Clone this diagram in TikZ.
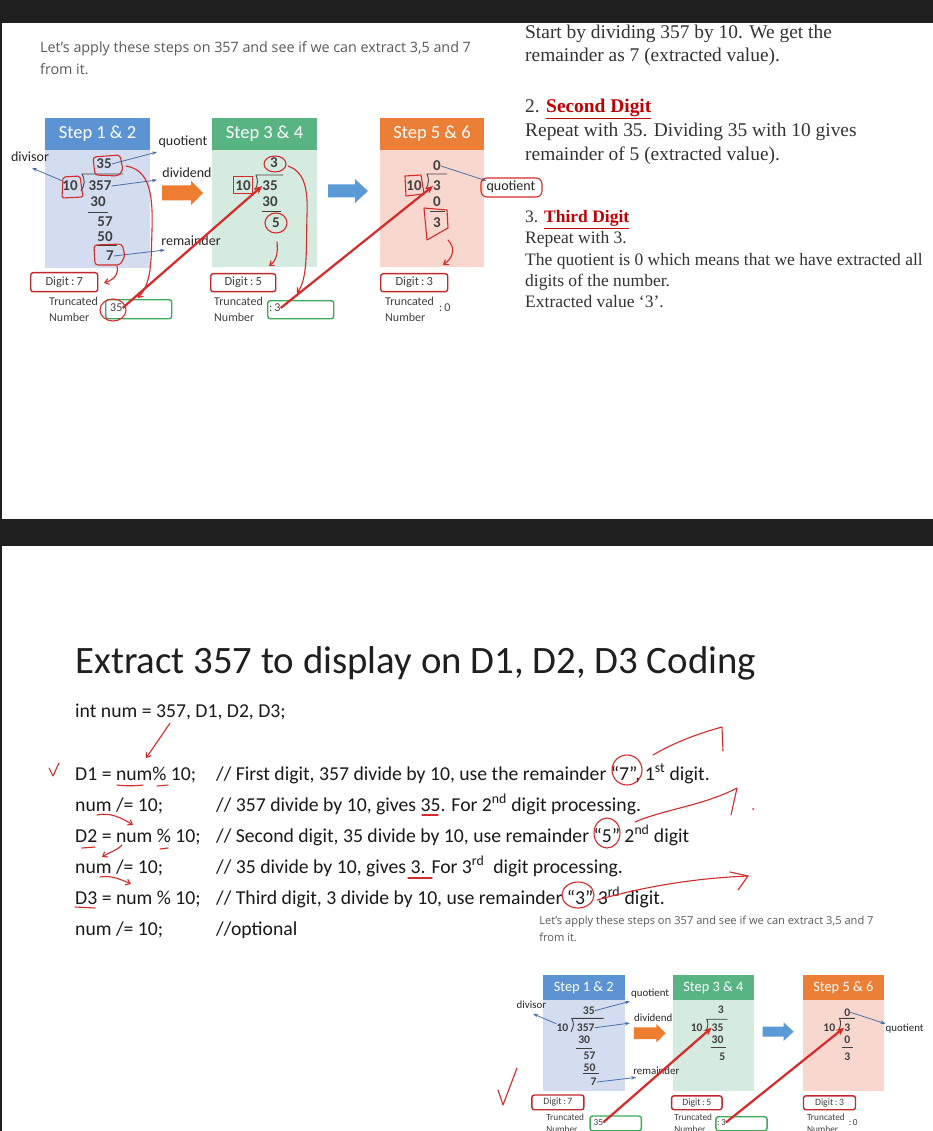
\documentclass[tikz,border=0pt]{standalone}
\usepackage{fontspec}
\setmainfont{Liberation Serif}
\newfontfamily\carl{Carlito}
\newfontfamily\opsans{Open Sans}
\usetikzlibrary{arrows.meta}
\definecolor{hdrblue}{HTML}{5B93D3}
\definecolor{hdrgreen}{HTML}{58B583}
\definecolor{hdrorange}{HTML}{EC7F37}
\definecolor{bodyblue}{HTML}{D4DCF0}
\definecolor{bodygreen}{HTML}{D6EBDF}
\definecolor{bodypink}{HTML}{F8D7CF}
\definecolor{fatorange}{HTML}{EE7D31}
\definecolor{fatblue}{HTML}{5B9BD5}
\definecolor{arrowblue}{HTML}{4A6FA8}
\definecolor{numgray}{HTML}{404040}
\definecolor{boxred}{HTML}{C0282D}
\definecolor{boxgreen}{HTML}{3DAA5A}
\definecolor{handred}{HTML}{D42A2A}
\definecolor{headred}{HTML}{C00000}
\definecolor{textgray}{HTML}{333333}
\definecolor{opengray}{HTML}{595959}
\definecolor{darkband}{HTML}{1F1F1F}
\tikzset{
 hdr/.style={text=white, inner sep=0pt, font=\carl\fontsize{18.5}{20}\selectfont},
 num/.style={text=numgray, inner sep=0pt, font=\carl\bfseries\fontsize{15}{16}\selectfont},
 lbl/.style={text=black!85, inner sep=0pt, font=\carl\fontsize{14}{15}\selectfont},
 small/.style={text=numgray, inner sep=0pt, font=\carl\fontsize{12}{13}\selectfont},
 barrow/.style={draw=arrowblue, line width=0.8pt, -{Stealth[length=5pt,width=3.5pt]}},
 rulestroke/.style={draw=numgray, line width=0.7pt},
 digitbox/.style={draw=boxred, line width=1.4pt, rounded corners=2.5pt, inner sep=0pt, text=numgray, font=\carl\fontsize{12.5}{13}\selectfont},
 truncbox/.style={draw=boxgreen, line width=1.4pt, rounded corners=2.5pt, inner sep=0pt},
 hand/.style={draw=handred, line width=1.1pt, line cap=round, line join=round},
 handarrow/.style={hand, -{Straight Barb[length=4pt,width=6pt]}},
 bigred/.style={draw=handred, line width=2.2pt, -{Stealth[length=8pt,width=7pt]}},
 serif/.style={anchor=base west, inner sep=0pt, text=textgray, font=\fontsize{17.5}{20}\selectfont},
 serifbig/.style={anchor=base west, inner sep=0pt, text=textgray, font=\fontsize{19.4}{22}\selectfont},
 codetext/.style={anchor=base west, inner sep=0pt, text=black!90, font=\carl\fontsize{19.7}{22}\selectfont},
 opentext/.style={anchor=base west, inner sep=0pt, text=opengray, font=\opsans\fontsize{14.3}{16}\selectfont},
}
\newcommand{\stepdiagram}[1]{%
 \node[opentext] (#1t1) at (40,53) {Let’s apply these steps on 357 and see if we can extract 3,5 and 7};
 \node[opentext] (#1t2) at (40,75) {from it.};
 % step boxes
 \fill[hdrblue] (45,118) rectangle (150,150);
 \fill[bodyblue] (45,150) rectangle (150,268);
 \node[hdr] (#1h1) at (97.5,134) {Step 1 \& 2};
 \fill[hdrgreen] (212,118) rectangle (317,150);
 \fill[bodygreen] (212,150) rectangle (317,267);
 \node[hdr] (#1h2) at (264.5,134) {Step 3 \& 4};
 \fill[hdrorange] (380,118) rectangle (484,150);
 \fill[bodypink] (380,150) rectangle (484,267);
 \node[hdr] (#1h3) at (432,134) {Step 5 \& 6};
 % step 1 & 2
 \node[num] (#1q1) at (104,164) {35};
 \node[num] (#1dv1) at (70,186) {10};
 \node[num] (#1dd1) at (100,186) {357};
 \node[num] (#1s1) at (98,202) {30};
 \draw[rulestroke] (88,212) -- (108,212);
 \node[num] (#1m1) at (105,222) {57};
 \node[num] (#1n1) at (105,237) {50};
 \draw[rulestroke] (96,245) -- (117,245);
 \node[num] (#1r1) at (110,256) {7};
 \draw[rulestroke, line width=0.9pt] (81,191) .. controls (85,185) and (85,179) .. (82,174) -- (123,174);
 % labels
 \node[lbl] (#1lq) at (183,142) {quotient};
 \node[lbl] (#1ldv) at (30,157) {divisor};
 \node[lbl] (#1ldd) at (187,173) {dividend};
 \node[lbl] (#1lr) at (191,241) {remainder};
 \draw[barrow] (#1q1.east) -- (157,152);
 \draw[barrow] (#1dv1.north west) -- (32,168);
 \draw[barrow] (#1dd1.east) -- (157,180);
 \draw[barrow] (#1r1.east) -- (165,250);
 % fat arrows
 \fill[fatorange] (162,185.5) -- (191,185.5) -- (191,181) -- (203,193) -- (191,205) -- (191,200.5) -- (162,200.5) -- cycle;
 \fill[fatblue] (328,184.5) -- (355,184.5) -- (355,179) -- (368,191) -- (355,203) -- (355,197.5) -- (328,197.5) -- cycle;
 % step 3 & 4
 \node[num] (#1q2) at (274,163) {3};
 \node[num] (#1dv2) at (243,186) {10};
 \node[num] (#1dd2) at (270,186) {35};
 \node[num] (#1s2) at (270,202) {30};
 \draw[rulestroke] (262,211) -- (281,211);
 \node[num] (#1r2) at (276,223) {5};
 \draw[rulestroke, line width=0.9pt] (255,190) .. controls (258,185) and (258,179) .. (256,175) -- (283,175);
 % step 5 & 6
 \node[num] (#1q3) at (437,166) {0};
 \node[num] (#1dv3) at (414,186) {10};
 \node[num] (#1dd3) at (437,186) {3};
 \node[num] (#1s3) at (437,202) {0};
 \draw[rulestroke] (430,211) -- (445,211);
 \node[num] (#1r3) at (437,223) {3};
 \draw[rulestroke, line width=0.9pt] (426,189) .. controls (429,184) and (429,178) .. (427,174) -- (447,174);
 \node[lbl] (#1lq3) at (511,187) {quotient};
 \draw[barrow] (#1q3.east) -- (#1lq3.north west);
 % digit boxes
 \node[digitbox, minimum width=67pt, minimum height=19pt, anchor=north west] (#1dg1) at (30,272) {Digit\,:\,7};
 \node[digitbox, minimum width=65pt, minimum height=18pt, anchor=north west] (#1dg2) at (210,273) {Digit\,:\,5};
 \node[digitbox, minimum width=67pt, minimum height=18pt, anchor=north west] (#1dg3) at (380,273) {Digit\,:\,3};
 % truncated
 \node[small, anchor=west] (#1tr1) at (49,301) {Truncated};
 \node[small, anchor=west] (#1nb1) at (49,317) {Number};
 \node[truncbox, minimum width=66pt, minimum height=19pt, anchor=north west] (#1tb1) at (105,299) {};
 \node[small, anchor=west] (#1tv1) at (110,308) {35};
 \node[small, anchor=west] (#1tr2) at (214,301) {Truncated};
 \node[small, anchor=west] (#1nb2) at (214,317) {Number};
 \node[truncbox, minimum width=66pt, minimum height=18pt, anchor=north west] (#1tb2) at (267,300) {};
 \node[small, anchor=west] (#1tv2) at (269,308) {:\,3};
 \node[small, anchor=west] (#1tr3) at (385,301) {Truncated};
 \node[small, anchor=west] (#1nb3) at (385,317) {Number};
 \node[small, anchor=west] (#1tv3) at (439,308) {:\,0};
 % big red lines
 \draw[bigred] (#1tv1.east) -- (#1dd2.west);
 \draw[bigred] (#1tv2.east) -- (#1dd3.west);
}
\begin{document}
\begin{tikzpicture}[x=1pt,y=-1pt]
\useasboundingbox (0,0) rectangle (933,1131);
\clip (0,0) rectangle (933,1131);
\fill[white] (0,0) rectangle (933,1131);
\fill[darkband] (0,0) rectangle (933,23);
\fill[darkband] (0,519) rectangle (933,546);
\fill[darkband] (0,23) rectangle (2,519);
\fill[darkband] (0,546) rectangle (2,1131);

% ---------- top diagram ----------
\stepdiagram{a}
% red annotations (top)
\draw[hand, rounded corners=3pt] (93,157) -- (120,155) -- (123,170) -- (118,176) -- (95,175) -- cycle;
\draw[hand, rounded corners=2pt] (63,177) -- (80,176) -- (83,197) -- (62,198) -- cycle;
\draw[hand, rounded corners=3pt] (94,245) -- (122,244) -- (125,256) -- (120,265) -- (95,265) -- cycle;
\draw[handarrow] (126,166) .. controls (150,170) and (153,195) .. (152,230) .. controls (151,262) and (152,282) .. (138,298);
\draw[handarrow] (117,266) .. controls (119,272) and (116,279) .. (104,283);
\draw[hand] (113,310) ellipse [x radius=13pt, y radius=11pt];
\draw[hand, line width=1pt] (233,177) rectangle (252,194);
\draw[hand] (275,164) ellipse [x radius=11pt, y radius=8pt];
\draw[hand] (276,223) ellipse [x radius=11pt, y radius=10pt];
\draw[handarrow] (288,166) .. controls (305,172) and (308,190) .. (307,215) .. controls (306,250) and (308,278) .. (297,293);
\draw[handarrow] (277,242) .. controls (278,252) and (277,260) .. (269,266);
\draw[hand] (405,176) -- (421,175) -- (424,194) -- (406,196) -- cycle;
\draw[hand] (424,208) -- (447,210) -- (448,228) -- (427,240) -- cycle;
\draw[handarrow] (448,240) .. controls (456,248) and (453,258) .. (443,265);
\draw[hand, rounded corners=6pt] (481,178) rectangle (542,197);

% ---------- right text ----------
\node[serifbig] (p1) at (525,39) {Start by dividing 357 by 10. We get the};
\node[serifbig] (p2) at (525,62) {remainder as 7 (extracted value).};
\node[serifbig] (p3) at (525,113) {2. \textcolor{headred}{\textbf{\underline{Second Digit}}}};
\node[serifbig] (p4) at (525,137) {Repeat with 35. Dividing 35 with 10 gives};
\node[serifbig] (p5) at (525,161) {remainder of 5 (extracted value).};
\node[serif] (p6) at (525,223) {3. \textcolor{headred}{\textbf{\underline{Third Digit}}}};
\node[serif] (p7) at (525,244) {Repeat with 3.};
\node[serif] (p8) at (525,266) {The quotient is 0 which means that we have extracted all};
\node[serif] (p9) at (525,287) {digits of the number.};
\node[serif] (p10) at (525,308) {Extracted value ‘3’.};

% ---------- code section ----------
\node[anchor=base west, inner sep=0pt, text=black!88, font=\carl\fontsize{38.8}{40}\selectfont] (title) at (75,673) {Extract 357 to display on D1, D2, D3 Coding};
\node[codetext] (c0) at (75,717) {int num = 357, D1, D2, D3;};
\node[codetext] (c1) at (75,780) {D1 = num\% 10;};
\node[codetext] (c2) at (75,811) {num /= 10;};
\node[codetext] (c3) at (75,842) {D2 = num \% 10;};
\node[codetext] (c4) at (75,873) {num /= 10;};
\node[codetext] (c5) at (75,904) {D3 = num \% 10;};
\node[codetext] (c6) at (75,935) {num /= 10;};
\node[codetext] (k1) at (216,780) {// First digit, 357 divide by 10, use the remainder “7”, 1\textsuperscript{st} digit.};
\node[codetext] (k2) at (216,811) {// 357 divide by 10, gives 35. For 2\textsuperscript{nd} digit processing.};
\node[codetext] (k3) at (216,842) {// Second digit, 35 divide by 10, use remainder “5” 2\textsuperscript{nd} digit};
\node[codetext] (k4) at (216,873) {// 35 divide by 10, gives 3. For 3\textsuperscript{rd}\ \ digit processing.};
\node[codetext] (k5) at (216,904) {// Third digit, 3 divide by 10, use remainder “3” 3\textsuperscript{rd} digit.};
\node[codetext] (k6) at (216,935) {//optional};

% red code annotations
\draw[hand] (49,768) -- (53,776) -- (59,763);
\draw[handarrow] (170,723) .. controls (162,735) and (153,748) .. (146,758);
\draw[hand] (117,785) .. controls (125,786) and (135,786) .. (143,785);
\draw[hand] (157,786) -- (168,785);
\draw[hand] (422,815) -- (438,815);
\draw[handarrow] (97,815) .. controls (110,812) and (122,818) .. (133,825);
\draw[hand] (82,848) -- (95,847);
\draw[hand] (160,849) -- (168,848);
\draw[handarrow] (122,845) .. controls (118,850) and (110,852) .. (102,857);
\draw[hand] (408,878) -- (432,878);
\draw[handarrow] (100,877) .. controls (112,875) and (122,880) .. (131,884);
\draw[hand] (75,907) -- (95,908);
% right annotations
\draw[hand] (627,770) ellipse [x radius=15pt, y radius=15pt];
\draw[hand] (653,755) .. controls (675,742) and (700,733) .. (722,727) -- (723,751);
\draw[hand] (607,833) ellipse [x radius=13pt, y radius=15pt];
\draw[hand] (635,822) .. controls (662,810) and (705,805) .. (737,788) -- (731,815);
\fill[handred] (753,809) circle (1pt);
\draw[hand] (578,895) ellipse [x radius=16pt, y radius=13pt];
\draw[hand] (597,900) .. controls (650,885) and (700,878) .. (748,876);
\draw[hand] (730,872) -- (748,876) -- (738,890);

% ---------- bottom mini diagram ----------
\begin{scope}[shift={(508.1,883.4)}, scale=0.776, transform shape]
\stepdiagram{b}
\end{scope}
\draw[hand] (498,1090) -- (503,1105) -- (517,1068);
\end{tikzpicture}
\end{document}
